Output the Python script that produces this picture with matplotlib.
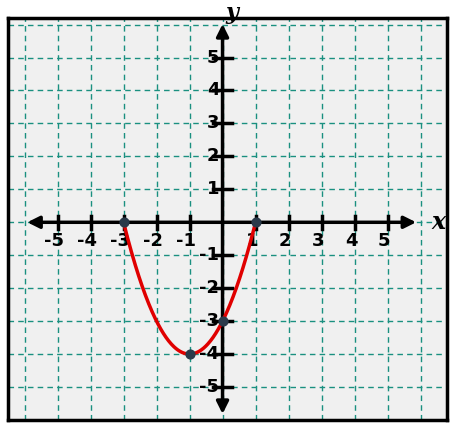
import matplotlib
matplotlib.use("Agg")
import matplotlib.pyplot as plt
import numpy as np

x_ticks = [-5, -4, -3, -2, -1, 1, 2, 3, 4, 5]
y_ticks = [-5, -4, -3, -2, -1, 1, 2, 3, 4, 5]
coef = [1, 2, -3]          # y = x^2 + 2x - 3
x_range = [-3, 1]
pts_x = [-3, 1, -1, 0]
pts_y = [0, 0, -4, -3]

fig = plt.figure(figsize=(4.59, 4.37), dpi=100)
ax = fig.add_axes([8/459, 17/437, 439/459, 402/437])
ax.set_facecolor('#f0f0f0')
ax.set_xlim(-6.5, 6.8)
ax.set_ylim(-6.0, 6.2)
for s in ax.spines.values():
    s.set_linewidth(2.5)
ax.set_xticks([]); ax.set_yticks([])
for g in range(-6, 7):
    ax.axvline(g, color='#1a9080', ls=(0, (4, 3)), lw=1, zorder=1)
    ax.axhline(g, color='#1a9080', ls=(0, (4, 3)), lw=1, zorder=1)

ap = dict(arrowstyle='<|-|>', color='black', lw=2.5, mutation_scale=18)
ax.annotate('', xy=(5.95, 0), xytext=(-6.0, 0), arrowprops=ap, zorder=3)
ax.annotate('', xy=(0, 6.1), xytext=(0, -5.9), arrowprops=ap, zorder=3)

for t in x_ticks:
    ax.plot([t, t], [-0.2, 0.2], color='black', lw=2.5, zorder=3)
    ax.text(t - 0.1, -0.3, str(t), ha='center', va='top', fontsize=13, fontweight='bold', zorder=4)
for t in y_ticks:
    ax.plot([-0.3, 0.3], [t, t], color='black', lw=2.5, zorder=3)
    ax.text(-0.1, t, str(t), ha='right', va='center', fontsize=13, fontweight='bold', zorder=4)

xs = np.linspace(x_range[0], x_range[1], 200)
ax.plot(xs, np.polyval(coef, xs), color='#e00000', lw=2.5, zorder=5)
ax.scatter(pts_x, pts_y, s=40, color='#2a3a4a', zorder=6)

ax.text(6.55, 0, 'x', fontsize=17, style='italic', fontweight='bold', family='DejaVu Serif', ha='center', va='center')
fig.text(232/459, 1 - 2/437, 'y', fontsize=16, style='italic', fontweight='bold', family='DejaVu Serif', ha='center', va='top')

fig.savefig('out.png', dpi=100)
